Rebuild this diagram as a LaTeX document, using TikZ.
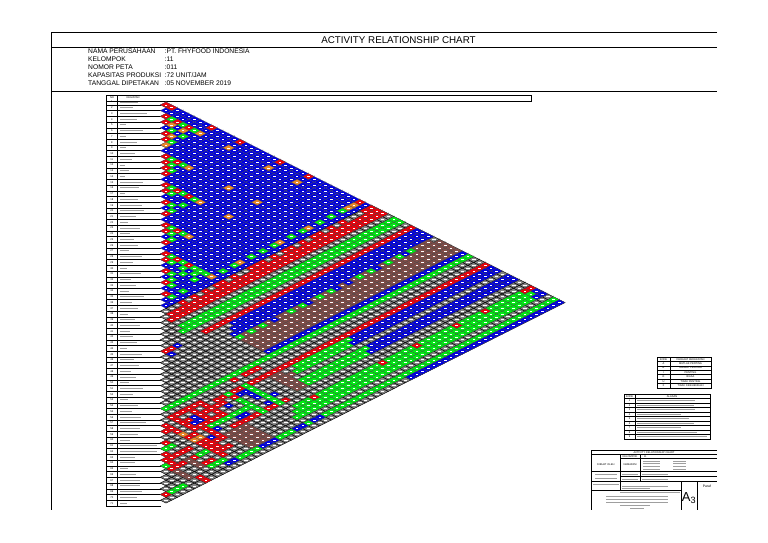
\documentclass[tikz,border=0pt]{standalone}
\usepackage{fontspec}
\setmainfont{Liberation Sans}
\definecolor{cblue}{RGB}{0,0,225}
\definecolor{cred}{RGB}{235,0,10}
\definecolor{cgreen}{RGB}{0,235,20}
\definecolor{corange}{RGB}{235,135,40}
\definecolor{cbrown}{RGB}{128,76,72}
\tikzset{
  frameline/.style={black,line width=.7pt},
  thinline/.style={black,line width=.5pt},
  textbar/.style={gray!75},
  hdr/.style={font=\fontsize{6.7}{7}\selectfont,anchor=west,inner sep=0pt},
  tiny/.style={font=\fontsize{2.6}{3}\selectfont,inner sep=0pt},
}
% one diamond of the chart: row, distance, colour
\newcommand{\arccell}[3]{%
  \pgfmathsetmacro{\cx}{160.3+#2*5.7}
  \pgfmathsetmacro{\cy}{102+(2*#1-#2-2)*2.865}
  \draw[black!70,line width=.18pt,fill=#3] (\cx-5.7,\cy)--(\cx,\cy-2.865)--(\cx+5.7,\cy)--(\cx,\cy+2.865)--cycle;
  \fill[white] (\cx-1.3,\cy-.3) rectangle (\cx+1.3,\cy+.3);
}
% an empty diamond, black and white
\newcommand{\arcempty}[2]{%
  \pgfmathsetmacro{\cx}{160.3+#2*5.7}
  \pgfmathsetmacro{\cy}{102+(2*#1-#2-2)*2.865}
  \draw[black,line width=.45pt,fill=black!48] (\cx-5.7,\cy)--(\cx,\cy-2.865)--(\cx+5.7,\cy)--(\cx,\cy+2.865)--cycle;
  \fill[white] (\cx-1.8,\cy-.4) rectangle (\cx+1.8,\cy+.4);
}
\begin{document}
\begin{tikzpicture}[x=1pt,y=-1pt]
\useasboundingbox (0,0) rectangle (768,543);
\fill[white] (0,0) rectangle (768,543);
% page frame and heading
\draw[frameline] (717,32)--(51,32)--(51,510);
\draw[frameline] (51,47.5)--(717,47.5);
\draw[frameline] (51,91)--(717,91);
\node[font=\fontsize{9.8}{10}\selectfont,inner sep=0pt] (title) at (398.5,39.7){ACTIVITY RELATIONSHIP CHART};
\foreach \y/\ka/\kb in {50.8/NAMA PERUSAHAAN/PT. FHYFOOD INDONESIA,58.8/KELOMPOK/11,67.2/NOMOR PETA/011,75.4/KAPASITAS PRODUKSI/{72 UNIT/JAM},83.2/TANGGAL DIPETAKAN/05 NOVEMBER 2019}
{
  \node[hdr] at (88,\y){\ka};
  \node[hdr] at (164.5,\y){:\kb};
}
% label table
\draw[thinline] (106,95)rectangle(531,101);
\draw[thinline] (106,95)--(106,505.5);
\draw[thinline] (117.5,95)--(117.5,505.5);
\node[tiny] at (112,98){NO};
\node[tiny] at (133,98){KEGIATAN};
\foreach \w [count=\r] in {18,13,27,17,6,23,6,17,6,15,12,5,9,5,23,19,5,18,22,24,16,8,20,10,14,18,9,22,13,7,21,11,16,9,24,12,18,8,15,20,10,13,17,7,22,14,19,11,16,9,23,13,8,18,12,21,26,20,18,10,37,37,15,15,8,16,20,20,22,17,7}
{
  \pgfmathsetmacro{\ry}{102+(\r-1)*5.73}
  \draw[thinline] (106,\ry+2.865)--(161,\ry+2.865);
  \node[tiny] at (111.8,\ry){\r};
  \fill[textbar] (120,\ry-.5) rectangle (120+\w,\ry+.5);
}
% base of the chart
\foreach \b in {2,...,71}
{
  \pgfmathtruncatemacro{\dmax}{\b-1}
  \foreach \d in {1,...,\dmax}
  {
    \ifnum\b<38\arccell{\b}{\d}{cblue}\else\arcempty{\b}{\d}\fi
  }
}
% bands along a row: row/from/to/colour
\foreach \b/\dfrom/\dto/\col in {
  39/2/38/cred,40/2/39/cred,42/4/41/cgreen,43/4/42/cgreen,45/8/44/cred,
  46/13/45/cblue,47/13/46/cblue,48/13/47/cblue,
  49/14/47/cbrown,50/15/49/cbrown,51/16/50/cbrown,52/17/51/cbrown,53/18/52/cbrown,
  54/19/53/cblue,55/1/54/cgreen,58/10/57/cred,
  59/24/33/cgreen,60/24/33/cgreen,59/34/58/cblue,60/34/59/cblue,
  62/24/36/cgreen,63/24/36/cgreen,62/37/61/cblue,63/37/62/cblue,
  66/24/63/cgreen,66/64/65/cred,67/24/65/cgreen,68/24/65/cgreen,67/66/66/cblue,68/66/67/cblue,
  70/2/4/cgreen,70/13/69/cgreen,71/44/70/cblue,
  45/1/2/cred,56/15/17/cred,57/3/7/cred,59/5/11/cred,61/7/11/cred,62/8/15/cgreen,64/13/22/cred,
  59/6/7/cblue,60/6/7/cblue,63/14/15/cblue,59/14/15/cblue,60/16/17/cblue,61/17/18/cblue,
  62/19/20/cblue,63/19/20/cblue,63/9/10/cblue,64/9/10/cblue,65/9/12/cred,67/10/12/cred,
  64/2/5/cred,66/2/6/cred,70/12/13/cblue,70/18/20/cblue,70/24/25/cblue,70/27/28/cblue,
  68/8/9/cred,66/7/8/cgreen,69/9/11/cgreen}
{
  \foreach \d in {\dfrom,...,\dto}{\arccell{\b}{\d}{\col}}
}
% bands along a column: column/from/to/colour
\foreach \a/\dfrom/\dto/\col in {
  50/8/11/cred,52/5/9/cred,55/2/6/cred,57/1/11/cred,54/8/11/cred,56/6/10/cred,
  46/12/18/cgreen,43/15/21/cgreen,38/21/25/cbrown,39/20/24/cbrown,37/23/23/cbrown,
  50/15/19/cbrown,51/14/18/cbrown,52/13/17/cbrown,53/12/16/cbrown,
  64/3/5/cbrown,61/5/7/cbrown,63/7/8/cred}
{
  \foreach \d in {\dfrom,...,\dto}{\pgfmathtruncatemacro{\b}{\a+\d}\arccell{\b}{\d}{\col}}
}
% single cells: row/distance/colour
\foreach \b/\d/\col in {
  2/1/cred,3/2/cred,4/1/cred,5/1/cred,5/2/cgreen,6/3/cred,6/2/corange,7/4/cgreen,8/5/cred,8/4/corange,
  7/2/cgreen,9/6/cgreen,10/7/corange,7/1/cred,8/2/corange,9/4/cgreen,8/1/cred,9/2/cgreen,9/1/corange,
  10/9/cred,15/14/cred,15/12/corange,22/21/cred,22/19/corange,27/26/cred,27/24/corange,
  22/12/corange,27/17/corange,27/12/corange,
  11/1/cred,12/1/cred,12/2/cgreen,13/3/cred,14/4/cgreen,15/5/corange,13/2/cgreen,14/2/cgreen,13/1/cred,14/1/cred,
  16/1/cred,17/1/cred,17/2/cgreen,18/3/cred,19/4/cgreen,20/5/cred,21/6/cgreen,22/7/corange,18/2/cgreen,
  19/1/cred,20/2/cgreen,21/4/cgreen,21/2/cgreen,21/1/cred,
  23/1/cred,24/1/cred,24/2/cgreen,25/3/cred,26/4/cgreen,27/5/corange,25/2/cgreen,26/2/cgreen,26/1/cred,
  28/1/cred,29/1/cred,29/2/cgreen,30/3/cred,31/4/cgreen,32/5/cred,33/6/cgreen,34/7/cgreen,35/8/cgreen,36/9/corange,
  30/2/cgreen,32/4/cgreen,34/6/cgreen,31/1/cred,32/2/cgreen,33/4/cgreen,33/2/cgreen,33/1/cred,35/6/cgreen,
  34/2/cgreen,36/4/cgreen,36/2/cgreen,35/1/cred,
  36/11/cgreen,36/13/cgreen,36/14/corange,36/16/cgreen,36/18/cgreen,36/20/cgreen,36/21/corange,36/23/cgreen,
  36/25/cgreen,36/26/corange,36/28/cgreen,36/30/cgreen,36/32/cgreen,36/33/corange,36/34/corange,36/35/cred,
  38/4/cred,38/6/cred,38/8/cred,38/10/cred,38/11/cred,38/13/cred,38/16/cred,38/17/cred,38/18/cred,38/20/cred,
  38/22/cred,38/23/cred,38/25/cred,38/27/cred,38/28/cred,38/30/cred,38/32/cred,38/36/cred,38/37/cred,
  49/14/cgreen,49/16/cgreen,49/18/cgreen,49/20/cblue,49/23/cgreen,49/25/cgreen,49/26/cblue,49/28/cgreen,
  49/30/cgreen,49/31/cblue,49/33/cblue,49/35/cgreen,49/37/cgreen,49/38/cblue,49/40/cgreen,49/42/cgreen,
  49/43/cblue,49/44/cgreen,45/3/cblue,46/2/cblue,56/13/cred,
  66/27/cred,66/39/cred,66/45/cred,66/52/cred,66/57/cred,
  59/1/cred,60/3/cred,60/5/cred,61/4/corange,63/6/corange,63/7/corange,60/12/cblue,59/13/cred,
  61/1/cred,62/1/cgreen,62/2/cgreen,63/1/cred,64/1/cred,65/1/cgreen,65/2/cred,70/1/cred}
{
  \arccell{\b}{\d}{\col}
}
% marks along the upper edge
\foreach \d in {1,...,70}
{
  \fill[gray!60] (160.3+\d*5.7,102+\d*2.865-3.7) circle (.45);
}
% legend of closeness
\draw[thinline] (657,357)rectangle(711,388);
\draw[thinline] (670,357)--(670,388);
\foreach \i in {1,...,6}
{
  \draw[thinline] (657,357+\i*4.43)--(711,357+\i*4.43);
}
\node[tiny] at (663.5,359.2){KODE};
\node[tiny] at (690.5,359.2){DERAJAT KEDEKATAN};
\foreach \i/\ka/\kb in {1/A/MUTLAK PENTING,2/E/SANGAT PENTING,3/I/PENTING,4/O/BIASA,5/U/TIDAK PENTING,6/X/TIDAK DIKEHENDAKI}
{
  \node[tiny] at (663.5,359.2+\i*4.43){\ka};
  \node[tiny] at (690.5,359.2+\i*4.43){\kb};
}
% legend of reasons
\draw[thinline] (624,394)rectangle(710,439);
\draw[thinline] (635,394)--(635,439);
\node[tiny] at (629.5,396.2){KODE};
\node[tiny] at (672,396.2){ALASAN};
\foreach \w [count=\i] in {58,57,58,44,52,57,44,60,70}
{
  \draw[thinline] (624,394+\i*4.5)--(710,394+\i*4.5);
  \node[tiny] at (629.5,396.2+\i*4.5){\i};
  \fill[textbar] (637,395.7+\i*4.5) rectangle (637+\w,396.7+\i*4.5);
}
% title block
\draw[frameline] (717,450)--(591.7,450)--(591.7,510);
\draw[thinline] (591.7,454.3)--(717,454.3);
\draw[thinline] (620,458.5)--(717,458.5);
\draw[thinline] (591.7,471.7)--(717,471.7);
\draw[thinline] (620,476.5)--(717,476.5);
\draw[thinline] (591.7,481.7)--(717,481.7);
\draw[thinline] (591.7,490)--(681.7,490);
\draw[thinline] (620,454.3)--(620,490);
\draw[thinline] (640,454.3)--(640,481.7);
\draw[thinline] (681.7,481.7)--(681.7,510);
\draw[thinline] (697.3,481.7)--(697.3,510);
\node[tiny] at (654,452.2){ACTIVITY RELATIONSHIP CHART};
\node[tiny] at (605.8,465){DIBUAT OLEH};
\node[tiny] at (630,456.4){KELOMPOK};
\node[tiny] at (642,456.4)[anchor=west]{: 11};
\node[tiny] at (630,465){NAMA/NIM};
\foreach \i in {0,1,2,3}
{
  \fill[textbar] (643,460.5+\i*2.7) rectangle (660,461.2+\i*2.7);
  \fill[textbar] (673,460.5+\i*2.7) rectangle (686,461.2+\i*2.7);
}
\foreach \y/\xa/\xb in {474/595/617,478.5/595/617,474/622/638,479/622/638,474/642/668,479/642/668,484/593/619,486/622/668,488.5/622/650,492/620/680,496/606/668,499/606/668,502/606/668,505/620/650,508/630/644}
{
  \fill[textbar] (\xa,\y-.4) rectangle (\xb,\y+.4);
}
\node[font=\fontsize{13}{13}\selectfont,inner sep=0pt] at (689,498){A\textsubscript{3}};
\node[font=\fontsize{3.4}{4}\selectfont,inner sep=0pt] at (707,486){Paraf};
\end{tikzpicture}
\end{document}
